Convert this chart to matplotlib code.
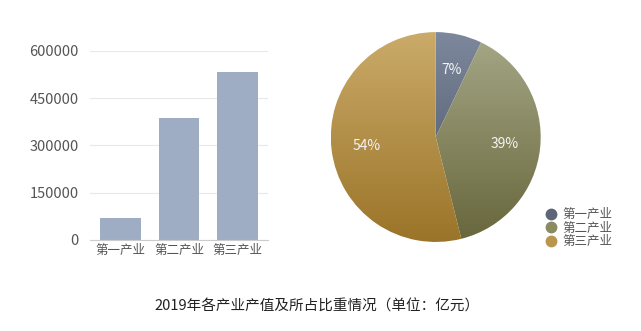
import numpy as np
import matplotlib.pyplot as plt
from matplotlib.colors import LinearSegmentedColormap
from matplotlib.lines import Line2D

plt.rcParams['font.family'] = ['Noto Sans CJK SC', 'DejaVu Sans']

industries = ['第一产业', '第二产业', '第三产业']
values = [70467, 386165, 534233]
yticks = [0, 150000, 300000, 450000, 600000]
title = '2019年各产业产值及所占比重情况（单位：亿元）'

# gradient colours for the pie (top, bottom)
grads = [('#7d889c', '#465063'), ('#a6a887', '#67663c'), ('#cbab6a', '#9a7428')]
legend_colors = ['#5d6578', '#8b8a60', '#b8964e']

fig = plt.figure(figsize=(6.41, 3.31), dpi=100)

# bar chart
ax = fig.add_axes([0.1404, 0.275, 0.2777, 0.571])
x = np.arange(len(industries))
ax.bar(x, values, width=0.7, color='#9fadc4', zorder=2)
ax.set_xlim(-0.52, 2.52)
ax.set_ylim(0, 600000)
ax.set_yticks(yticks)
ax.set_yticklabels([str(v) for v in yticks], fontsize=10.5, color='#555555')
ax.set_xticks(x)
ax.set_xticklabels(industries, fontsize=9, color='#555555')
ax.tick_params(length=0, pad=8)
ax.tick_params(axis='x', pad=3)
ax.grid(axis='y', color='#e8e8e8', linewidth=0.8, zorder=0)
for s in ['top', 'right', 'left']:
    ax.spines[s].set_visible(False)
ax.spines['bottom'].set_color('#cccccc')

# pie chart
pax = fig.add_axes([0.516, 0.269, 0.3276, 0.634])
wedges, texts, autotexts = pax.pie(values, startangle=90, counterclock=False,
                                   autopct='%.0f%%', pctdistance=0.66,
                                   wedgeprops=dict(facecolor='none', edgecolor='none'),
                                   textprops=dict(color='#f4f4f4', fontsize=10))
grad = np.linspace(1, 0, 256).reshape(-1, 1)
for w, (top, bot) in zip(wedges, grads):
    cmap = LinearSegmentedColormap.from_list('g', [bot, top])
    im = pax.imshow(grad, cmap=cmap, extent=(-1, 1, -1, 1), origin='upper',
                    aspect='auto', zorder=1)
    im.set_clip_path(w)
for t in autotexts:
    t.set_zorder(3)
pax.set_xlim(-1, 1)
pax.set_ylim(-1, 1)
pax.set_aspect('equal')
pax.axis('off')

handles = [Line2D([], [], marker='o', linestyle='none', markersize=7.5,
                  markerfacecolor=c, markeredgecolor=c) for c in legend_colors]
fig.legend(handles, industries, loc='upper left', bbox_to_anchor=(0.84, 0.39),
           frameon=False, fontsize=9, labelspacing=0.05, handletextpad=0.45,
           handlelength=1.0, borderpad=0, labelcolor='#555555')

fig.text(0.495, 0.075, title, ha='center', va='center', fontsize=10.5, color='#222222')

fig.savefig('out.png', dpi=100)
